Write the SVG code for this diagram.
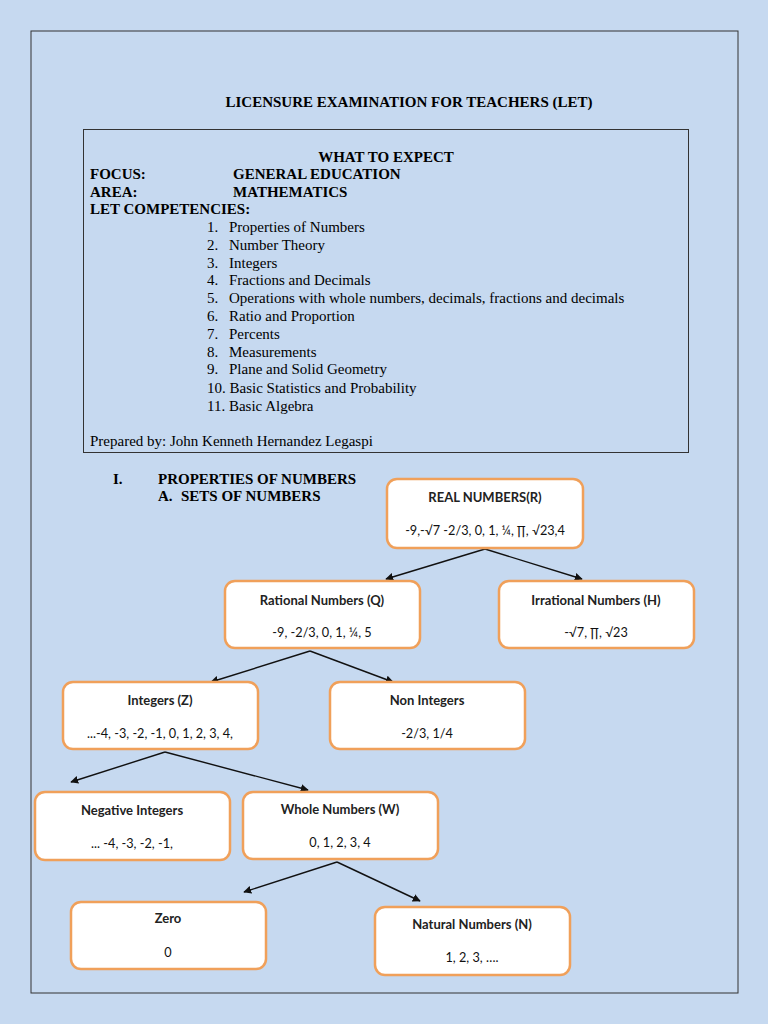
<svg xmlns="http://www.w3.org/2000/svg" width="768" height="1024" viewBox="0 0 768 1024">
<defs>
<style>
.t{font-family:"Liberation Serif","Times New Roman",serif;font-size:15px;fill:#000}
.b{font-weight:bold}
.n{fill:#fff;stroke:#F0A05A;stroke-width:2.5}
.nt{font-family:Lato,"Open Sans",sans-serif;font-size:13px;font-weight:bold;fill:#222;text-anchor:middle}
.nv{font-family:Lato,"Open Sans",sans-serif;font-size:12.7px;fill:#111;text-anchor:middle}
.c{stroke:#111;stroke-width:1.4;fill:none;marker-end:url(#ah)}
</style>
<marker id="ah" viewBox="0 0 10 10" refX="9" refY="5" markerWidth="8" markerHeight="8" orient="auto" markerUnits="userSpaceOnUse"><path d="M0,0 L10,5 L0,10 z" fill="#111"/></marker>
</defs>
<rect x="0" y="0" width="768" height="1024" fill="#C6D9F0"/>
<rect x="31" y="31" width="707" height="962" fill="none" stroke="#333" stroke-width="1"/>
<text class="t b" x="409" y="107" text-anchor="middle">LICENSURE EXAMINATION FOR TEACHERS (LET)</text>
<g id="expect">
<rect x="83.5" y="129.5" width="605" height="323" fill="none" stroke="#333" stroke-width="1"/>
<text class="t b" x="386" y="162" text-anchor="middle">WHAT TO EXPECT</text>
<text class="t b" x="90" y="179">FOCUS:</text><text class="t b" x="233" y="179">GENERAL EDUCATION</text>
<text class="t b" x="90" y="197">AREA:</text><text class="t b" x="233" y="197">MATHEMATICS</text>
<text class="t b" x="90" y="214">LET COMPETENCIES:</text>
<g class="t">
<text x="207" y="232">1.</text><text x="229" y="232">Properties of Numbers</text>
<text x="207" y="250">2.</text><text x="229" y="250">Number Theory</text>
<text x="207" y="268">3.</text><text x="229" y="268">Integers</text>
<text x="207" y="285">4.</text><text x="229" y="285">Fractions and Decimals</text>
<text x="207" y="303">5.</text><text x="229" y="303">Operations with whole numbers, decimals, fractions and decimals</text>
<text x="207" y="321">6.</text><text x="229" y="321">Ratio and Proportion</text>
<text x="207" y="339">7.</text><text x="229" y="339">Percents</text>
<text x="207" y="357">8.</text><text x="229" y="357">Measurements</text>
<text x="207" y="374">9.</text><text x="229" y="374">Plane and Solid Geometry</text>
<text x="207" y="393">10. Basic Statistics and Probability</text>
<text x="207" y="411">11. Basic Algebra</text>
<text x="90" y="446">Prepared by: John Kenneth Hernandez Legaspi</text>
</g>
</g>
<text class="t b" x="113" y="484">I.</text>
<text class="t b" x="158" y="484">PROPERTIES OF NUMBERS</text>
<text class="t b" x="158" y="501">A.</text>
<text class="t b" x="181" y="501">SETS OF NUMBERS</text>
<g id="connectors">
<line class="c" x1="485" y1="549" x2="386" y2="579"/>
<line class="c" x1="485" y1="549" x2="582" y2="579"/>
<line class="c" x1="310" y1="651" x2="211" y2="682"/>
<line class="c" x1="310" y1="651" x2="393" y2="682"/>
<line class="c" x1="165" y1="752" x2="71" y2="782"/>
<line class="c" x1="165" y1="752" x2="308" y2="790"/>
<line class="c" x1="337" y1="862" x2="244" y2="892"/>
<line class="c" x1="337" y1="862" x2="420" y2="901"/>
</g>
<g id="real"><rect class="n" x="387" y="479" width="196" height="69" rx="10"/><text class="nt" x="485" y="502">REAL NUMBERS(R)</text><text class="nv" x="485" y="535">-9,-√7 -2/3, 0, 1, ¼, ∏, √23,4</text></g>
<g id="rational"><rect class="n" x="225" y="581" width="195" height="67" rx="10"/><text class="nt" x="322" y="605">Rational Numbers (Q)</text><text class="nv" x="322" y="637">-9, -2/3, 0, 1, ¼, 5</text></g>
<g id="irrational"><rect class="n" x="499" y="581" width="195" height="67" rx="10"/><text class="nt" x="596" y="605">Irrational Numbers (H)</text><text class="nv" x="596" y="637">-√7, ∏, √23</text></g>
<g id="integers"><rect class="n" x="63" y="682" width="195" height="67" rx="10"/><text class="nt" x="160" y="705">Integers (Z)</text><text class="nv" x="160" y="738">...-4, -3, -2, -1, 0, 1, 2, 3, 4,</text></g>
<g id="nonintegers"><rect class="n" x="330" y="682" width="195" height="67" rx="10"/><text class="nt" x="427" y="705">Non Integers</text><text class="nv" x="427" y="738">-2/3, 1/4</text></g>
<g id="negative"><rect class="n" x="35" y="792" width="195" height="68" rx="10"/><text class="nt" x="132" y="815">Negative Integers</text><text class="nv" x="132" y="848">... -4, -3, -2, -1,</text></g>
<g id="whole"><rect class="n" x="243" y="792" width="195" height="67" rx="10"/><text class="nt" x="340" y="814">Whole Numbers (W)</text><text class="nv" x="340" y="847">0, 1, 2, 3, 4</text></g>
<g id="zero"><rect class="n" x="71" y="902" width="195" height="67" rx="10"/><text class="nt" x="168" y="923">Zero</text><text class="nv" x="168" y="957">0</text></g>
<g id="natural"><rect class="n" x="375" y="907" width="195" height="68" rx="10"/><text class="nt" x="472" y="929">Natural Numbers (N)</text><text class="nv" x="472" y="962">1, 2, 3, ….</text></g>
</svg>
